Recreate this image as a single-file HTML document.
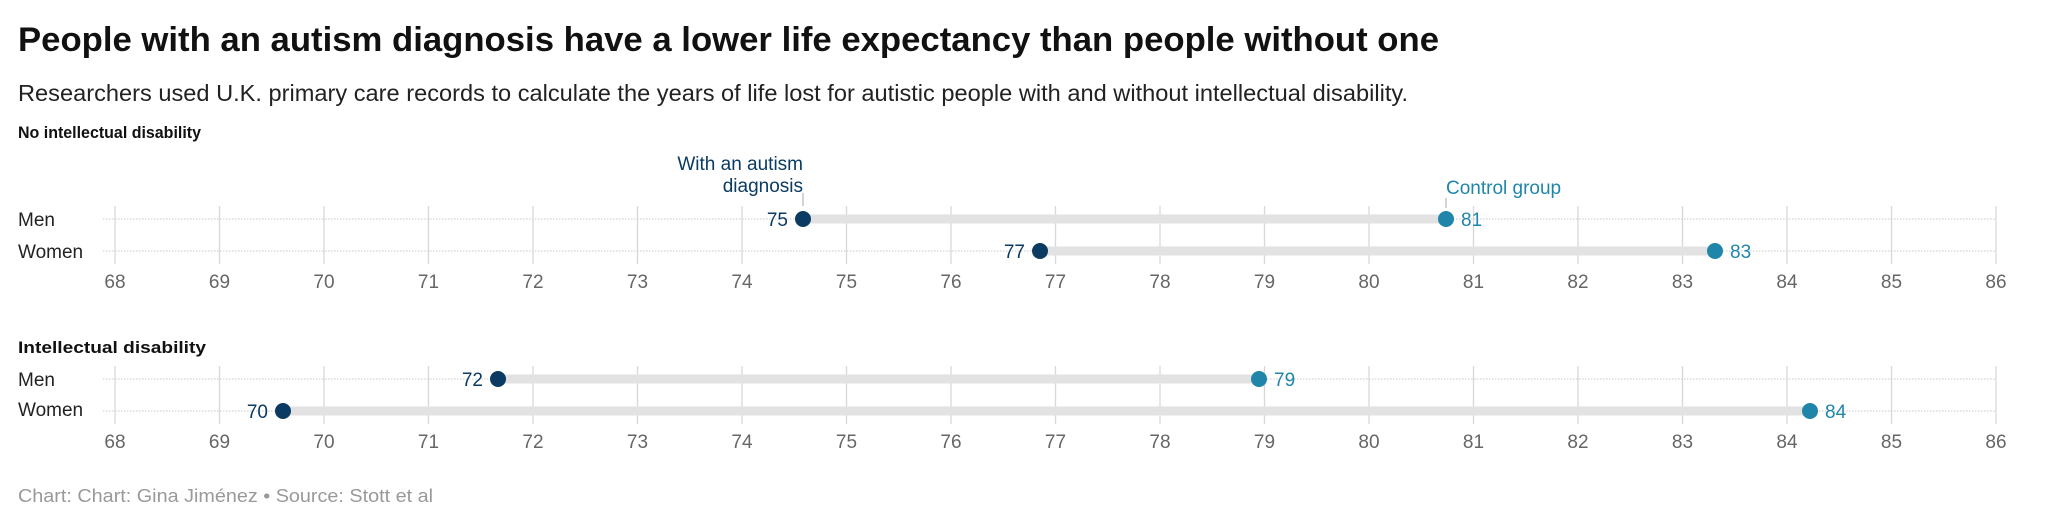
<!DOCTYPE html>
<html><head><meta charset="utf-8"><style>
body{margin:0;background:#fff;width:2048px;height:525px;overflow:hidden;font-family:"Liberation Sans",sans-serif}
</style></head><body>
<svg width="2048" height="525" xmlns="http://www.w3.org/2000/svg" font-family="Liberation Sans, sans-serif">
<text x="18" y="51" font-size="34" font-weight="bold" fill="#111" textLength="1421" lengthAdjust="spacingAndGlyphs">People with an autism diagnosis have a lower life expectancy than people without one</text>
<text x="18" y="101" font-size="23" fill="#222" textLength="1390" lengthAdjust="spacingAndGlyphs">Researchers used U.K. primary care records to calculate the years of life lost for autistic people with and without intellectual disability.</text>
<text x="18" y="138" font-size="17" font-weight="bold" fill="#111" textLength="183" lengthAdjust="spacingAndGlyphs">No intellectual disability</text>
<text x="18" y="353" font-size="17" font-weight="bold" fill="#111" textLength="188" lengthAdjust="spacingAndGlyphs">Intellectual disability</text>
<g id="p1">
<g stroke="#d8d8d8" stroke-width="1.3">
<line x1="115" y1="206" x2="115" y2="264"/><line x1="219.5" y1="206" x2="219.5" y2="264"/><line x1="324" y1="206" x2="324" y2="264"/><line x1="428.5" y1="206" x2="428.5" y2="264"/><line x1="533" y1="206" x2="533" y2="264"/><line x1="637.5" y1="206" x2="637.5" y2="264"/><line x1="742" y1="206" x2="742" y2="264"/><line x1="846.5" y1="206" x2="846.5" y2="264"/><line x1="951" y1="206" x2="951" y2="264"/><line x1="1055.5" y1="206" x2="1055.5" y2="264"/><line x1="1160" y1="206" x2="1160" y2="264"/><line x1="1264.5" y1="206" x2="1264.5" y2="264"/><line x1="1369" y1="206" x2="1369" y2="264"/><line x1="1473.5" y1="206" x2="1473.5" y2="264"/><line x1="1578" y1="206" x2="1578" y2="264"/><line x1="1682.5" y1="206" x2="1682.5" y2="264"/><line x1="1787" y1="206" x2="1787" y2="264"/><line x1="1891.5" y1="206" x2="1891.5" y2="264"/><line x1="1996" y1="206" x2="1996" y2="264"/>
</g>
<g stroke="#c8c8c8" stroke-width="1" stroke-dasharray="1.5,1.5"><line x1="103" y1="219" x2="1996" y2="219"/><line x1="103" y1="251" x2="1996" y2="251"/></g>
<g font-size="19" fill="#666" text-anchor="middle">
<text x="115" y="288">68</text><text x="219.5" y="288">69</text><text x="324" y="288">70</text><text x="428.5" y="288">71</text><text x="533" y="288">72</text><text x="637.5" y="288">73</text><text x="742" y="288">74</text><text x="846.5" y="288">75</text><text x="951" y="288">76</text><text x="1055.5" y="288">77</text><text x="1160" y="288">78</text><text x="1264.5" y="288">79</text><text x="1369" y="288">80</text><text x="1473.5" y="288">81</text><text x="1578" y="288">82</text><text x="1682.5" y="288">83</text><text x="1787" y="288">84</text><text x="1891.5" y="288">85</text><text x="1996" y="288">86</text>
</g>
</g>
<use href="#p1" transform="translate(0,160)"/>
<g font-size="19" fill="#222"><text x="18" y="226">Men</text><text x="18" y="258">Women</text><text x="18" y="386">Men</text><text x="18" y="416">Women</text></g>
<g stroke="#e2e2e2" stroke-width="9">
<line x1="803" y1="219" x2="1446" y2="219"/><line x1="1040" y1="251" x2="1715" y2="251"/>
<line x1="498" y1="379" x2="1259" y2="379"/><line x1="283" y1="411" x2="1810" y2="411"/>
</g>
<g stroke="#bbb" stroke-width="1.3"><line x1="803" y1="193" x2="803" y2="206"/><line x1="1446" y1="198" x2="1446" y2="208"/></g>
<g fill="#0b3b62"><circle cx="803" cy="219" r="8"/><circle cx="1040" cy="251" r="8"/><circle cx="498" cy="379" r="8"/><circle cx="283" cy="411" r="8"/></g>
<g fill="#1f86aa"><circle cx="1446" cy="219" r="8"/><circle cx="1715" cy="251" r="8"/><circle cx="1259" cy="379" r="8"/><circle cx="1810" cy="411" r="8"/></g>
<g font-size="19" fill="#0b3b62" text-anchor="end"><text x="788" y="226">75</text><text x="1025" y="258">77</text><text x="483" y="386">72</text><text x="268" y="418">70</text>
<text x="803" y="170">With an autism</text><text x="803" y="192">diagnosis</text></g>
<g font-size="19" fill="#1f86aa"><text x="1461" y="226">81</text><text x="1730" y="258">83</text><text x="1274" y="386">79</text><text x="1825" y="418">84</text><text x="1446" y="194">Control group</text></g>
<text x="18" y="502" font-size="18" fill="#999" textLength="415" lengthAdjust="spacingAndGlyphs">Chart: Chart: Gina Jiménez • Source: Stott et al</text>
</svg>
</body></html>
